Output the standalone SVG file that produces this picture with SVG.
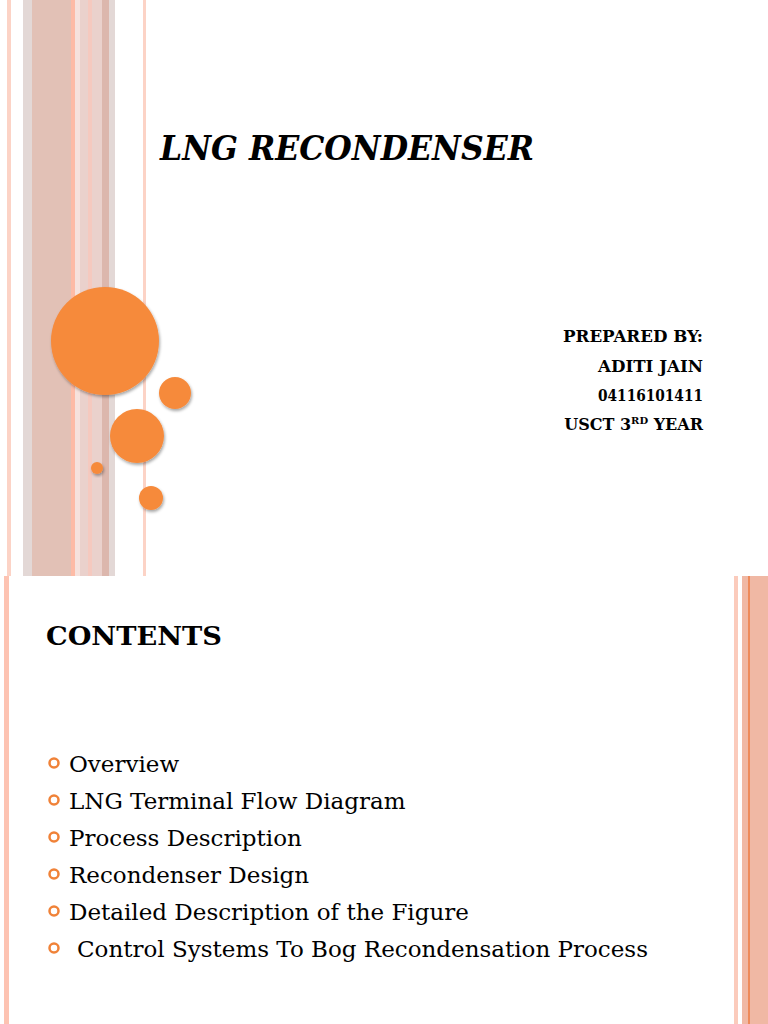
<svg xmlns="http://www.w3.org/2000/svg" width="768" height="1024" viewBox="0 0 768 1024">
<defs>
<filter id="sh" x="-30%" y="-30%" width="160%" height="160%"><feDropShadow dx="1" dy="2" stdDeviation="1.5" flood-color="#000" flood-opacity="0.35"/></filter>
</defs>
<style>
.c{fill:#f68a3b;filter:url(#sh)}
.t{font-family:"DejaVu Serif",serif;font-weight:bold;fill:#000}
.b{font-family:"DejaVu Serif",serif;font-size:23px;fill:#000}
.r{fill:none;stroke:#f08238;stroke-width:2.5}
</style>
<rect width="768" height="1024" fill="#fff"/>
<g id="slide1">
<rect x="7" y="0" width="4" height="576" fill="#fcd3c6"/>
<rect x="23" y="0" width="92" height="576" fill="#e3d8d6"/>
<rect x="32" y="0" width="40" height="576" fill="#e2c1b6"/>
<rect x="71" y="0" width="4" height="576" fill="#fdbba6"/>
<rect x="75" y="0" width="5" height="576" fill="#f6e2dd"/>
<rect x="80" y="0" width="22" height="576" fill="#ead1cc"/>
<rect x="88" y="0" width="4" height="576" fill="#f5c9bf"/>
<rect x="102" y="0" width="7" height="576" fill="#dcb7ad"/>
<rect x="143" y="0" width="3" height="576" fill="#fcd3c6"/>
<circle class="c" cx="105" cy="341" r="54"/>
<circle class="c" cx="175" cy="393" r="16"/>
<circle class="c" cx="137" cy="436" r="27"/>
<circle class="c" cx="97" cy="468" r="6"/>
<circle class="c" cx="151" cy="498" r="12"/>
<text class="t" x="160" y="160" font-size="34" font-style="italic" textLength="374" lengthAdjust="spacingAndGlyphs">LNG RECONDENSER</text>
<g class="t" font-size="16" text-anchor="end">
<text x="703" y="342" textLength="140" lengthAdjust="spacingAndGlyphs">PREPARED BY:</text>
<text x="703" y="372" textLength="105" lengthAdjust="spacingAndGlyphs">ADITI JAIN</text>
<text x="703" y="401" textLength="105" lengthAdjust="spacingAndGlyphs">04116101411</text>
<text x="703" y="430">USCT 3<tspan font-size="10" dy="-6">RD</tspan><tspan dy="6"> YEAR</tspan></text>
</g>
</g>
<g id="slide2">
<rect x="4" y="576" width="5" height="448" fill="#fdc3b2"/>
<rect x="734" y="576" width="4" height="448" fill="#fbcbbc"/>
<rect x="742" y="576" width="26" height="448" fill="#f0b8a4"/>
<rect x="748" y="576" width="2" height="448" fill="#ee8a5a"/>
<text class="t" x="46" y="645" font-size="26" textLength="176" lengthAdjust="spacingAndGlyphs">CONTENTS</text>
<g>
<circle class="r" cx="54" cy="763" r="4.5"/>
<circle class="r" cx="54" cy="800" r="4.5"/>
<circle class="r" cx="54" cy="837" r="4.5"/>
<circle class="r" cx="54" cy="874" r="4.5"/>
<circle class="r" cx="54" cy="911" r="4.5"/>
<circle class="r" cx="54" cy="948" r="4.5"/>
</g>
<text class="b" x="69" y="772">Overview</text>
<text class="b" x="69" y="809">LNG Terminal Flow Diagram</text>
<text class="b" x="69" y="846">Process Description</text>
<text class="b" x="69" y="883">Recondenser Design</text>
<text class="b" x="69" y="920">Detailed Description of the Figure</text>
<text class="b" x="77" y="957">Control Systems To Bog Recondensation Process</text>
</g>
</svg>
